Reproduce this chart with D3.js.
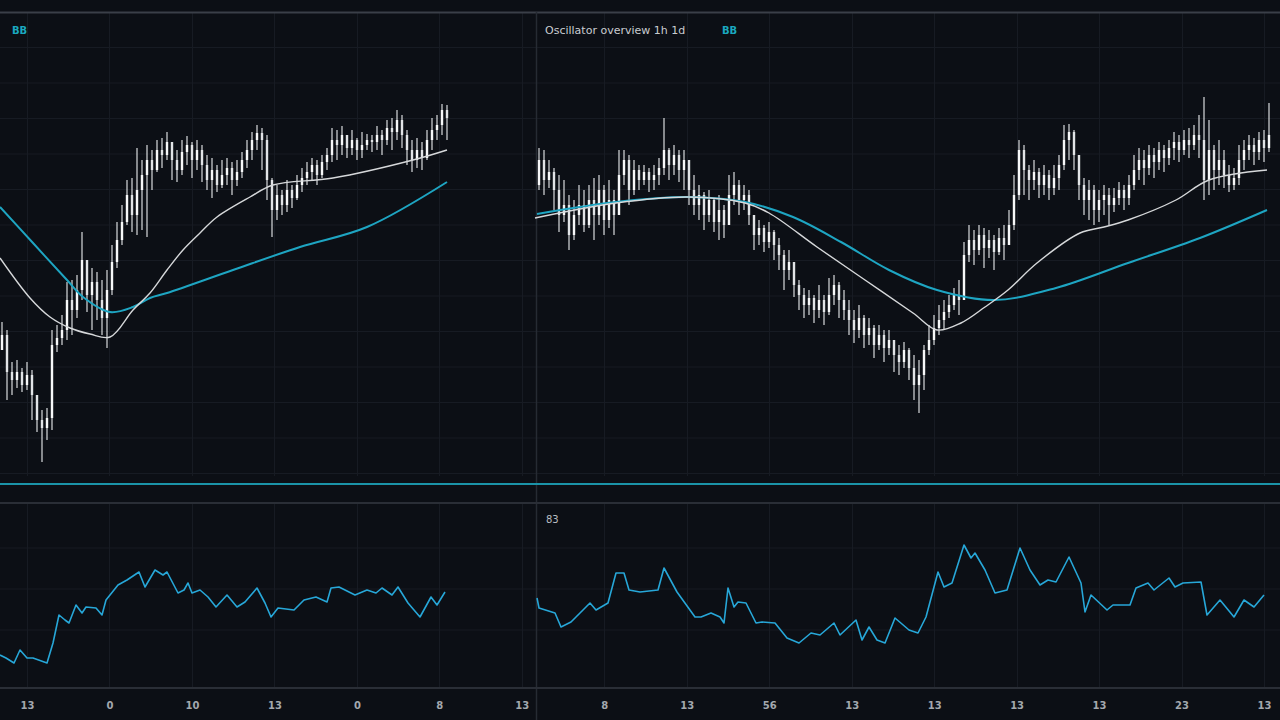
<!DOCTYPE html>
<html>
<head>
<meta charset="utf-8">
<title>Oscillator overview</title>
<script src="https://cdn.jsdelivr.net/npm/d3@7"></script>
<style>
html, body { margin: 0; padding: 0; background: #0c0f15; }
svg { display: block; }
</style>
</head>
<body>
<svg id="chart" width="1280" height="720"></svg>
<script>
// ---- left panel: candles ----
var leftFirstOpen = 1126;
var leftClose = [1141,1104,1096,1104,1091,1101,1081,1056,1048,1058,
                 1131,1138,1146,1176,1166,1186,1216,1181,1194,1176,
                 1158,1186,1214,1236,1254,1281,1261,1286,1301,1316,
                 1306,1326,1321,1334,1316,1306,1324,1331,1316,1326,
                 1311,1296,1306,1291,1301,1308,1296,1304,1316,1326,
                 1336,1343,1336,1296,1266,1281,1271,1286,1278,1291,
                 1298,1304,1311,1301,1314,1321,1336,1331,1341,1328,
                 1336,1326,1331,1336,1334,1341,1336,1348,1344,1356,
                 1341,1326,1316,1326,1318,1336,1346,1351,1366,1358];
var leftHigh = [1154,1146,1114,1116,1108,1114,1106,1071,1066,1068,
                1146,1151,1161,1194,1196,1201,1244,1214,1208,1204,
                1196,1206,1231,1254,1271,1296,1298,1328,1316,1331,
                1326,1336,1338,1344,1328,1326,1336,1340,1334,1336,
                1331,1321,1318,1311,1316,1318,1314,1316,1324,1336,
                1344,1351,1348,1341,1298,1291,1286,1296,1291,1301,
                1308,1314,1318,1316,1321,1328,1348,1346,1350,1341,
                1346,1338,1344,1342,1341,1350,1346,1356,1358,1366,
                1361,1346,1336,1338,1334,1346,1358,1361,1372,1371];
var leftLow = [1126,1076,1081,1088,1084,1086,1056,1044,1014,1036,
               1046,1124,1131,1136,1141,1158,1176,1164,1146,1156,
               1141,1128,1181,1208,1231,1251,1244,1241,1246,1239,
               1286,1304,1308,1316,1296,1294,1301,1311,1298,1306,
               1294,1286,1278,1284,1288,1291,1281,1290,1298,1308,
               1316,1326,1306,1276,1239,1256,1261,1264,1268,1276,
               1284,1291,1296,1291,1298,1306,1314,1316,1321,1318,
               1321,1316,1318,1326,1324,1326,1321,1331,1326,1336,
               1328,1311,1304,1308,1306,1316,1326,1336,1341,1336];
// moving averages, [candle index, price]
var leftMaFast = [[-0.4,1218],[5.6,1178],[9.6,1159],[13.6,1148],[17.6,1142],[21.6,1139],
                  [26.2,1166],[29.6,1183],[33,1206],[36.2,1226],[39.6,1243],[43,1259],
                  [49.6,1279],[54.2,1291],[66.2,1298],[82.2,1316],[89,1326]];
var leftMaSlow = [[-0.4,1269],[6.2,1233],[13,1196],[16.2,1179],[21.6,1164],[26.2,1169],
                  [29.6,1178],[33,1183],[46.2,1206],[59.6,1229],[73,1249],[89,1294]];
// oscillator, [candle index, value]
var leftOsc = [[-0.4,16.5],[0.8,15],[2.4,12.5],[3.6,19],[5,15],[6.2,15],[9,12.5],[10.2,22.5],
               [11.4,36.5],[12.6,34],[13.4,32.5],[14.8,41.5],[16,37.5],[16.8,40.5],[18.8,40],
               [20,36.5],[20.8,44],[23.2,51.5],[25,54],[27.4,58],[28.6,50.5],[30.6,59],[32.2,56.5],
               [33,58],[35.2,47.5],[36.4,49],[37.2,52.5],[38,47.5],[39.6,49],[41.2,45.5],[42.8,40.5],
               [45,46.5],[47,40.5],[48.6,43],[51,50],[52.6,42.5],[53.8,35.5],[55.2,40],[58.4,39],
               [60.4,44],[62.8,45.5],[65,43],[65.8,50],[67.4,50.5],[70.6,46.5],[73,49],[74.8,47.5],
               [76,50],[78,46.5],[79.2,50.5],[81.2,42.5],[83.6,35.5],[85.8,45.5],[87,41.5],[88.6,48]];

// ---- right panel: candles ----
var rightFirstOpen = 1291;
var rightClose = [1316,1296,1304,1286,1261,1271,1241,1261,1271,1251,
                  1276,1261,1286,1256,1276,1261,1301,1316,1286,1306,
                  1296,1304,1296,1301,1308,1326,1311,1321,1306,1316,
                  1286,1271,1281,1261,1276,1254,1266,1251,1281,1291,
                  1276,1281,1261,1241,1248,1234,1244,1231,1221,1206,
                  1214,1191,1181,1171,1178,1166,1176,1164,1181,1191,
                  1176,1166,1156,1146,1158,1141,1148,1131,1141,1128,
                  1136,1121,1114,1126,1108,1091,1101,1126,1136,1148,
                  1156,1164,1171,1181,1176,1221,1236,1226,1241,1228,
                  1236,1224,1238,1231,1251,1281,1326,1306,1296,1304,
                  1291,1301,1288,1298,1311,1336,1344,1321,1291,1276,
                  1286,1266,1276,1281,1271,1278,1286,1278,1291,1306,
                  1316,1308,1321,1314,1326,1318,1328,1334,1326,1336,
                  1331,1341,1336,1296,1326,1306,1316,1301,1291,1298,
                  1316,1326,1331,1324,1336,1328,1341];
var rightHigh = [1328,1326,1316,1308,1301,1296,1281,1276,1291,1286,
                 1291,1298,1301,1291,1296,1286,1326,1326,1321,1316,
                 1311,1311,1308,1311,1318,1358,1328,1331,1326,1326,
                 1311,1301,1291,1284,1286,1278,1281,1271,1301,1304,
                 1296,1291,1286,1261,1256,1251,1254,1246,1238,1226,
                 1226,1214,1196,1188,1186,1181,1191,1181,1198,1201,
                 1194,1186,1176,1166,1171,1161,1158,1151,1151,1146,
                 1146,1136,1131,1134,1128,1121,1116,1131,1151,1161,
                 1171,1176,1181,1188,1196,1234,1251,1246,1251,1248,
                 1246,1241,1248,1251,1266,1301,1336,1331,1311,1316,
                 1308,1311,1306,1311,1321,1351,1352,1346,1316,1298,
                 1296,1291,1286,1291,1288,1288,1294,1291,1301,1321,
                 1328,1326,1331,1328,1334,1331,1336,1344,1341,1346,
                 1348,1351,1361,1379,1356,1331,1336,1326,1311,1308,
                 1331,1336,1341,1338,1344,1346,1373];
var rightLow = [1286,1281,1288,1266,1244,1254,1226,1236,1251,1244,
                1248,1236,1251,1241,1248,1241,1264,1291,1271,1281,
                1286,1291,1284,1286,1291,1301,1296,1301,1294,1286,
                1271,1261,1256,1246,1254,1244,1236,1238,1251,1271,
                1261,1266,1251,1226,1231,1224,1228,1216,1206,1186,
                1196,1179,1166,1158,1161,1153,1158,1151,1161,1171,
                1158,1156,1141,1133,1138,1128,1131,1118,1126,1114,
                1121,1104,1101,1108,1096,1076,1063,1086,1121,1131,
                1141,1146,1158,1166,1161,1178,1214,1211,1221,1208,
                1218,1206,1221,1216,1231,1246,1276,1281,1276,1286,
                1278,1281,1276,1281,1286,1306,1316,1306,1276,1261,
                1256,1251,1254,1261,1251,1264,1271,1266,1271,1286,
                1296,1291,1301,1298,1306,1304,1311,1316,1314,1321,
                1318,1326,1318,1276,1281,1286,1291,1288,1284,1286,
                1291,1306,1316,1311,1316,1314,1324];
var rightMaFast = [[-0.8,1258],[15.4,1273],[29.8,1279],[41.2,1273],[46,1263],[55.6,1229],
                   [65.2,1196],[74.8,1163],[79.6,1146],[84.4,1153],[89.2,1169],[93.8,1186],
                   [99.6,1213],[108.2,1243],[113,1249],[117.8,1256],[127.4,1276],[134,1296],[145.6,1306]];
var rightMaSlow = [[-0.4,1262],[15.4,1274],[29.8,1279],[41.2,1274],[50.8,1259],[60.4,1234],
                   [70,1206],[79.6,1186],[91,1176],[103.4,1188],[117.8,1213],[132.2,1238],[145.6,1266]];
var rightOsc = [[-0.4,45],[0,40],[3.2,37.5],[4.4,30.5],[6.4,33],[8.2,37.5],[10.2,42.5],[11.4,39],
                [13.8,42.5],[15.4,57.5],[17,57.5],[18,49],[20.2,48],[23.8,49],[25,60],[27.6,48],
                [31.2,35.5],[32.4,35.5],[34.4,37.5],[36.2,35.5],[37,32.5],[37.8,50],[39,40.5],
                [39.8,43],[41.4,42.5],[43.4,32.5],[44.6,33],[47.2,32.5],[49.6,25],[52,22.5],
                [54.4,27.5],[56.2,26.5],[59,32.5],[60.2,26.5],[63.4,34],[64.6,24],[66,30.5],
                [67.6,24],[69.2,22.5],[71.2,35],[74,29],[75.8,27.5],[77.4,35.5],[79.8,58],[81,50.5],
                [82.6,52.5],[85,71.5],[86.4,65],[87.2,67.5],[89.2,59],[91.2,47.5],[93.6,49],
                [96.2,70],[98.2,59],[100.2,51.5],[101.8,54],[103.4,53],[106,65.5],[108.4,52.5],
                [109.2,38],[110.4,46.5],[113.6,39],[114.8,41.5],[118.2,41.5],[119.4,50],[121.8,52.5],
                [123,49],[126,55],[127.2,50.5],[128.8,52.5],[132.4,53],[133.6,36.5],[136.2,44],
                [139,35.5],[141,44],[143,40.5],[145,46.5]];

// time axis labels
var tickLabels = ["13","0","10","13","0","8","13","8","13","56","13","13","13","13","23","13"];

var svg = d3.select("#chart");
var W = 1280;

var yPrice = d3.scaleLinear().domain([1000, 1464]).range([476, 12]);
var yOsc = d3.scaleLinear().domain([0, 100]).range([688, 488]);
var xLeft = d3.scaleLinear().domain([0, leftClose.length - 1]).range([2, 447]);
var xRight = d3.scaleLinear().domain([0, rightClose.length - 1]).range([539, 1269]);
var xTime = d3.scalePoint().domain(d3.range(tickLabels.length)).range([27, 1264]);

// grid
var grid = svg.append("g").attr("stroke", "#171b23").attr("stroke-width", 1);
d3.range(47.5, 476, 35.5).forEach(function (y) {
    grid.append("line").attr("x1", 0).attr("x2", W).attr("y1", y).attr("y2", y);
});
[548, 589, 630].forEach(function (y) {
    grid.append("line").attr("x1", 0).attr("x2", W).attr("y1", y).attr("y2", y);
});
xTime.domain().forEach(function (i) {
    var x = Math.round(xTime(i)) + 0.5;
    grid.append("line").attr("x1", x).attr("x2", x).attr("y1", 12).attr("y2", 476);
    grid.append("line").attr("x1", x).attr("x2", x).attr("y1", 503).attr("y2", 688);
});

// frame lines
svg.append("line").attr("x1", 0).attr("x2", W).attr("y1", 12.5).attr("y2", 12.5)
    .attr("stroke", "#3a3f48").attr("stroke-width", 2);
svg.append("line").attr("x1", 536.5).attr("x2", 536.5).attr("y1", 12).attr("y2", 720)
    .attr("stroke", "#262b33").attr("stroke-width", 1.5);
svg.append("line").attr("x1", 0).attr("x2", W).attr("y1", 484).attr("y2", 484)
    .attr("stroke", "#1b93a8").attr("stroke-width", 2);
svg.append("line").attr("x1", 0).attr("x2", W).attr("y1", 503).attr("y2", 503)
    .attr("stroke", "#2a2e36").attr("stroke-width", 2);
svg.append("line").attr("x1", 0).attr("x2", W).attr("y1", 688).attr("y2", 688)
    .attr("stroke", "#2a2e36").attr("stroke-width", 2);

function candles(close, high, low, firstOpen, x) {
    var data = close.map(function (c, i) {
        var o = i === 0 ? firstOpen : close[i - 1];
        return { i: i, o: o, c: c, h: Math.max(high[i], o, c), l: Math.min(low[i], o, c) };
    });
    var g = svg.append("g");
    g.selectAll("line").data(data).enter().append("line")
        .attr("x1", function (d) { return x(d.i); })
        .attr("x2", function (d) { return x(d.i); })
        .attr("y1", function (d) { return yPrice(d.h); })
        .attr("y2", function (d) { return yPrice(d.l); })
        .attr("stroke", "#eceef0").attr("stroke-width", 1.1);
    g.selectAll("rect").data(data).enter().append("rect")
        .attr("x", function (d) { return x(d.i) - 1.2; })
        .attr("width", 2.4)
        .attr("y", function (d) { return yPrice(Math.max(d.o, d.c)); })
        .attr("height", function (d) { return Math.max(1, Math.abs(yPrice(d.o) - yPrice(d.c))); })
        .attr("fill", function (d) { return d.c >= d.o ? "#f7f8f9" : "#e2e4e7"; });
}

function maLine(pts, x, color, width) {
    var line = d3.line()
        .x(function (d) { return x(d[0]); })
        .y(function (d) { return yPrice(d[1]); })
        .curve(d3.curveCatmullRom.alpha(0.5));
    svg.append("path").datum(pts).attr("d", line)
        .attr("fill", "none").attr("stroke", color).attr("stroke-width", width);
}

function oscLine(pts, x) {
    var line = d3.line()
        .x(function (d) { return x(d[0]); })
        .y(function (d) { return yOsc(d[1]); });
    svg.append("path").datum(pts).attr("d", line)
        .attr("fill", "none").attr("stroke", "#27a7d8").attr("stroke-width", 1.6)
        .attr("stroke-linejoin", "round");
}

candles(leftClose, leftHigh, leftLow, leftFirstOpen, xLeft);
candles(rightClose, rightHigh, rightLow, rightFirstOpen, xRight);
maLine(leftMaSlow, xLeft, "#1ea5c2", 2);
maLine(leftMaFast, xLeft, "#d6d8da", 1.4);
maLine(rightMaSlow, xRight, "#1ea5c2", 2);
maLine(rightMaFast, xRight, "#d6d8da", 1.4);
oscLine(leftOsc, xLeft);
oscLine(rightOsc, xRight);

// labels
svg.append("text").attr("x", 12).attr("y", 34).text("BB")
    .attr("fill", "#1aa9c0").attr("font-family", "DejaVu Sans").attr("font-size", 10).attr("font-weight", "bold");
svg.append("text").attr("x", 545).attr("y", 34).text("Oscillator overview 1h 1d")
    .attr("fill", "#c9ccd0").attr("font-family", "DejaVu Sans").attr("font-size", 11);
svg.append("text").attr("x", 722).attr("y", 34).text("BB")
    .attr("fill", "#1aa9c0").attr("font-family", "DejaVu Sans").attr("font-size", 10).attr("font-weight", "bold");
svg.append("text").attr("x", 546).attr("y", 523).text("83")
    .attr("fill", "#b9bdc2").attr("font-family", "DejaVu Sans").attr("font-size", 10);

// time axis
var axis = svg.append("g").attr("transform", "translate(0,699)")
    .call(d3.axisBottom(xTime).tickSize(0).tickFormat(function (i) { return tickLabels[i]; }));
axis.select(".domain").remove();
axis.selectAll("text").attr("fill", "#a3a8ae").attr("font-size", 10)
    .attr("font-family", "DejaVu Sans").attr("font-weight", "bold");
</script>
</body>
</html>
